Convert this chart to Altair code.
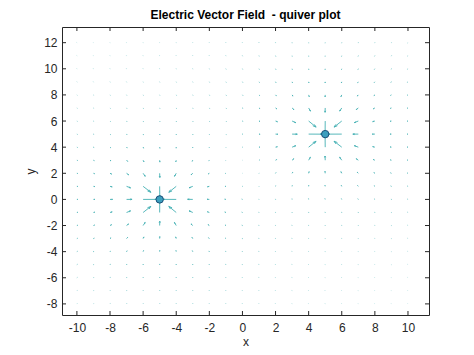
import math
import altair as alt
import pandas as pd

# ---- data ----
grid_x = list(range(-10, 11))
grid_y = list(range(-8, 13))
charge_x = [-5, 5]
charge_y = [0, 5]
charge_q = [-1.0, -1.0]   # arrows point toward the charges
arrow_scale = 1.3
x_ticks = list(range(-10, 11, 2))
y_ticks = list(range(-8, 13, 2))
x_domain = [-10.9, 11.27]
y_domain = [-8.85, 13.2]

W, H = 367, 288
ARROW = "#45b0b4"
DARK = "#262626"

# quiver segments (shaft + two head strokes), from the charge field
alpha, beta = 0.33, 0.33
segs = []
for gx in grid_x:
    for gy in grid_y:
        u = v = 0.0
        skip = False
        for cx, cy, q in zip(charge_x, charge_y, charge_q):
            dx, dy = gx - cx, gy - cy
            r = math.hypot(dx, dy)
            if r == 0:
                skip = True
                break
            u += q * dx / r ** 3
            v += q * dy / r ** 3
        if skip:
            continue
        u *= arrow_scale
        v *= arrow_scale
        tx, ty = gx + u, gy + v
        segs.append(dict(x=gx, y=gy, x2=tx, y2=ty))
        segs.append(dict(x=tx - alpha * (u + beta * v), y=ty - alpha * (v - beta * u), x2=tx, y2=ty))
        segs.append(dict(x=tx - alpha * (u - beta * v), y=ty - alpha * (v + beta * u), x2=tx, y2=ty))
seg_df = pd.DataFrame(segs)
charge_df = pd.DataFrame({"x": charge_x, "y": charge_y})
xt_df = pd.DataFrame({"x": x_ticks})
yt_df = pd.DataFrame({"y": y_ticks})

label_expr = "datum.value < 0 ? '-' + abs(datum.value) : '' + datum.value"
xs = alt.Scale(domain=x_domain, nice=False, zero=False)
ys = alt.Scale(domain=y_domain, nice=False, zero=False)
xax = alt.Axis(title="x", values=x_ticks, labelPadding=7, titlePadding=3, labelExpr=label_expr)
yax = alt.Axis(title="y", values=y_ticks, labelPadding=5, titlePadding=6, labelExpr=label_expr)

arrows = alt.Chart(seg_df).mark_rule(color=ARROW, strokeWidth=1, strokeCap="butt", opacity=0.9).encode(
    x=alt.X("x:Q", scale=xs, axis=xax),
    y=alt.Y("y:Q", scale=ys, axis=yax),
    x2="x2:Q",
    y2="y2:Q",
)

charges = alt.Chart(charge_df).mark_point(
    shape="circle", filled=True, size=55, fill="#3c9fbe", stroke="#1b4f78", strokeWidth=1, opacity=1
).encode(
    x=alt.X("x:Q", scale=xs, axis=xax),
    y=alt.Y("y:Q", scale=ys, axis=yax),
)

tick_len = 4
bottom_ticks = alt.Chart(xt_df).mark_rule(color=DARK, strokeWidth=1).encode(
    x=alt.X("x:Q", scale=xs, axis=xax), y=alt.value(H), y2=alt.value(H - tick_len))
top_ticks = alt.Chart(xt_df).mark_rule(color=DARK, strokeWidth=1).encode(
    x=alt.X("x:Q", scale=xs, axis=xax), y=alt.value(0), y2=alt.value(tick_len))
left_ticks = alt.Chart(yt_df).mark_rule(color=DARK, strokeWidth=1).encode(
    y=alt.Y("y:Q", scale=ys, axis=yax), x=alt.value(0), x2=alt.value(tick_len))
right_ticks = alt.Chart(yt_df).mark_rule(color=DARK, strokeWidth=1).encode(
    y=alt.Y("y:Q", scale=ys, axis=yax), x=alt.value(W), x2=alt.value(W - tick_len))

chart = alt.layer(arrows, charges, bottom_ticks, top_ticks, left_ticks, right_ticks).properties(
    width=W,
    height=H,
    autosize=alt.AutoSizeParams(type="none"),
    padding={"left": 54, "top": 19, "right": 30, "bottom": 40},
    title=alt.TitleParams(
        "Electric Vector Field\u00a0 - quiver plot",
        font="Liberation Sans", fontSize=12, fontWeight="bold", color="#000000",
        anchor="middle", offset=5,
    ),
).configure_view(
    stroke=DARK, strokeWidth=1
).configure_axis(
    domain=False, ticks=False, grid=False,
    labelFont="Liberation Sans", labelFontSize=12, labelColor=DARK,
    titleFont="Liberation Sans", titleFontSize=12, titleFontWeight="normal", titleColor=DARK,
)

chart.save("out.html", embed_options={"renderer": "svg", "actions": False})
